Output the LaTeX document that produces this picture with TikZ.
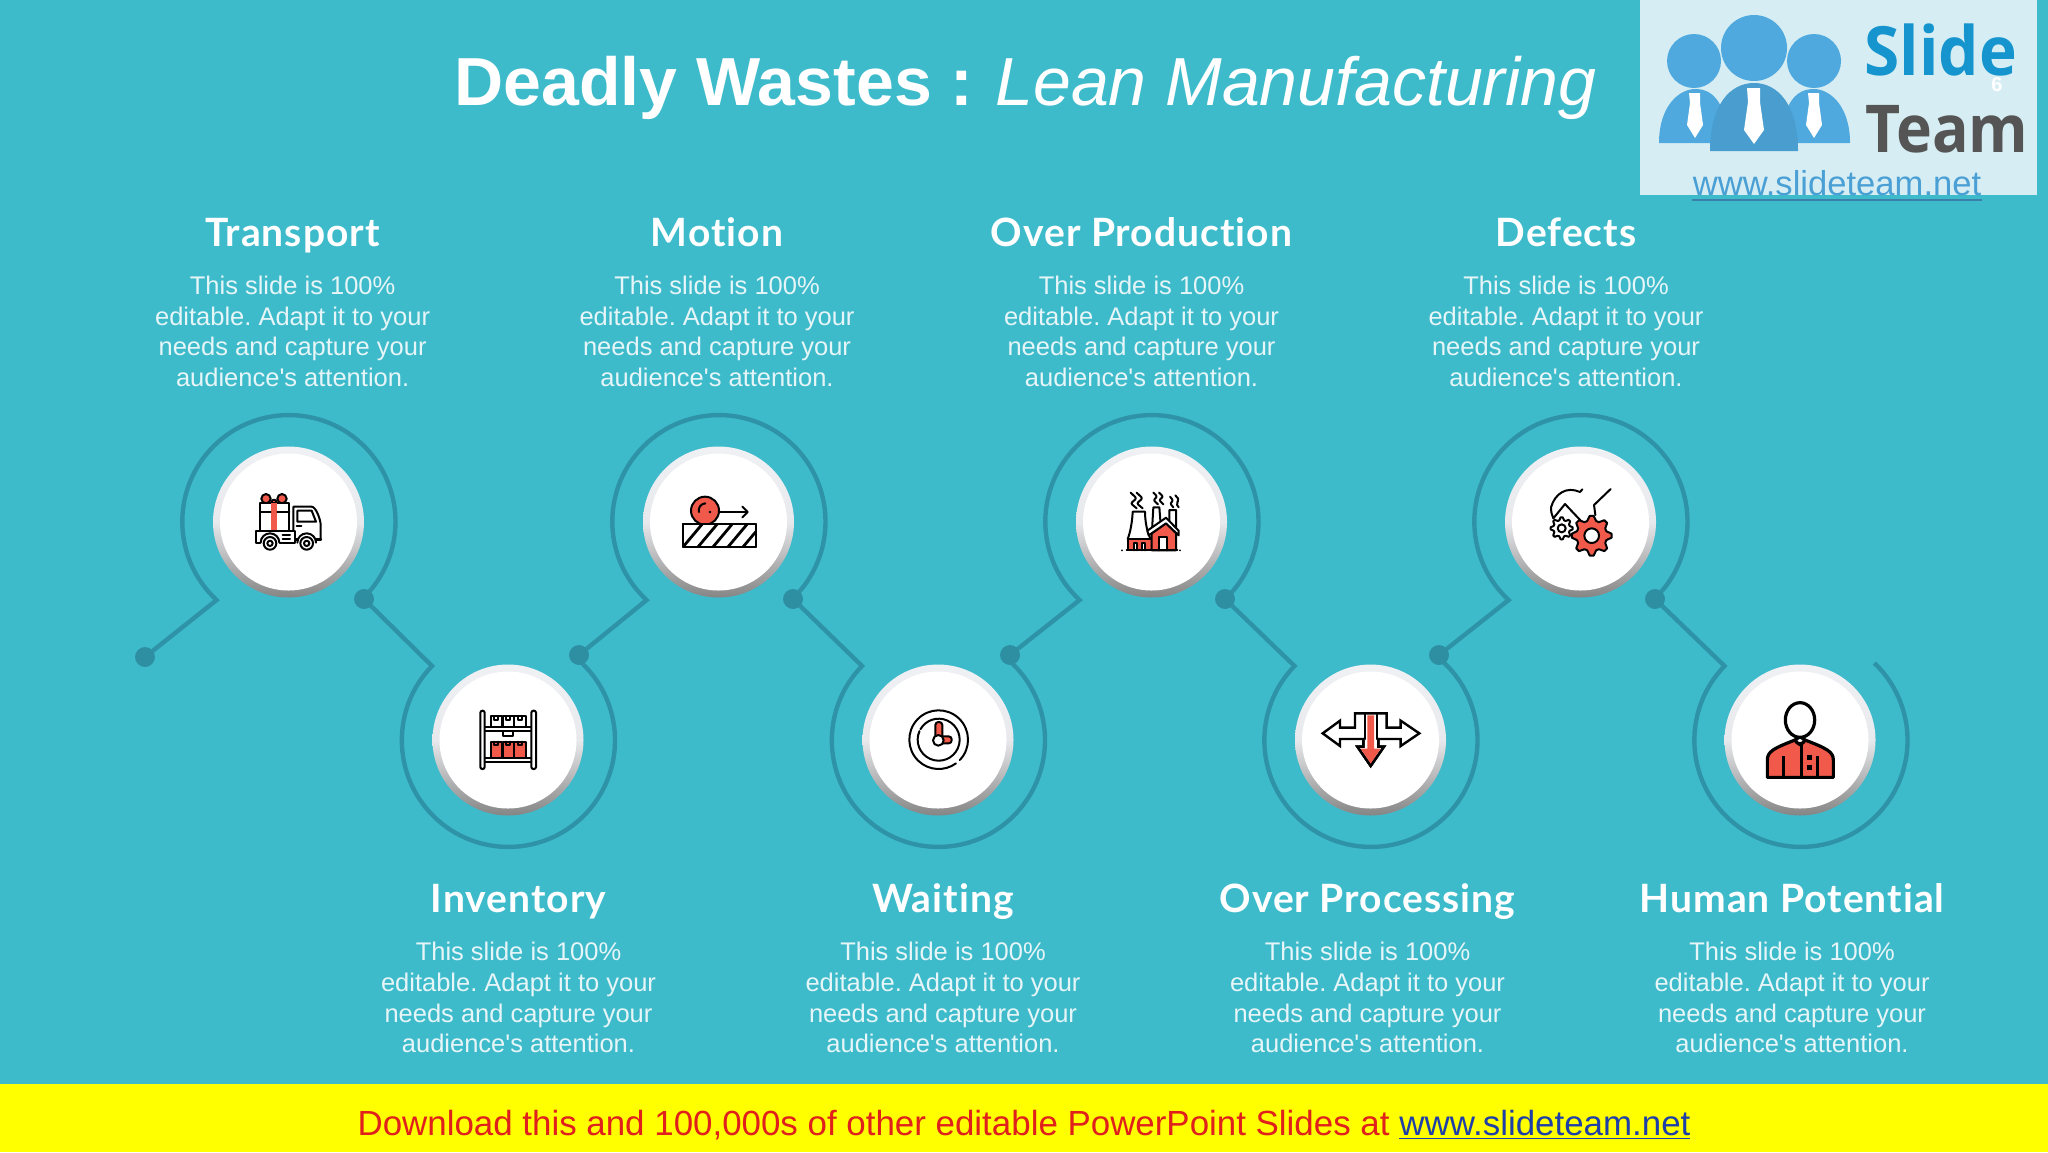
\documentclass[tikz,border=0pt]{standalone}
\usepackage{graphicx}
\usepackage{fontspec}
\setmainfont{Liberation Sans}
\newfontfamily\bodyfont{Liberation Sans}
\newfontfamily\headfont[LetterSpace=2.6,Ligatures=NoCommon]{Lato}
\newfontfamily\logofont{Open Sans}
\definecolor{bgc}{HTML}{3EBBCB}
\definecolor{ringc}{HTML}{2F93A8}
\definecolor{dotc}{HTML}{2E8FA3}
\definecolor{icored}{HTML}{F15A4A}
\definecolor{bodyc}{HTML}{E6F5F7}
\definecolor{logobg}{HTML}{D6EEF3}
\definecolor{logoblue}{HTML}{4FA9DE}
\definecolor{logotx}{HTML}{1594CE}
\definecolor{logogr}{HTML}{555555}
\definecolor{urlc}{HTML}{4A9FD4}
\definecolor{banyel}{HTML}{FFFF00}
\definecolor{banred}{HTML}{E0201C}
\definecolor{banblue}{HTML}{1F3FA8}
\definecolor{rimtop}{HTML}{F0F1F4}
\definecolor{rimmid}{HTML}{E8E9EC}
\definecolor{rimbot}{HTML}{858585}
\tikzset{
  ringline/.style={draw=ringc,line width=2.2pt,line join=miter},
  dotnode/.style={circle,fill=dotc,minimum size=9.8pt,inner sep=0pt},
  headtxt/.style={font=\headfont\bfseries\fontsize{19.5}{22}\selectfont,text=white,anchor=base,inner sep=0pt},
  bodytxt/.style={font=\bodyfont\frenchspacing\fontsize{12.75}{15.4}\selectfont,text=bodyc,align=center,anchor=north,inner sep=0pt},
  ico/.style={line width=1pt,draw=black,line join=round,line cap=round},
  icosc/.style={x=0.16667pt,y=-0.16667pt},
}
\newcommand{\mygear}[6]{%
  \pgfmathsetmacro{\gearn}{int(#5*4-1)}%
  \draw[ico,fill=#6] plot[samples at={0,...,\gearn}] ({#1+ifthenelse(mod(\x,4)<2,#3,#4)*cos((\x-0.5)*90/#5)},{#2+ifthenelse(mod(\x,4)<2,#3,#4)*sin((\x-0.5)*90/#5)}) -- cycle;}
\newcommand{\disc}[3]{%
  \shade[top color=rimtop,bottom color=rimbot,middle color=rimmid] (#2,#3) circle[radius=75.5];
  \node[circle,fill=white,minimum size=68.5pt,inner sep=0pt] (#1) at (#2,#3) {};}
\newcommand{\bodytext}{This slide is 100\%\\editable. Adapt it to your\\needs and capture your\\audience's attention.}
\newcommand{\topblock}[3]{%
  \node[headtxt] (h#3) at (#1,246) {#2};
  \node[bodytxt] (b#3) at (#1,275.5) {\bodytext};}
\newcommand{\botblock}[3]{%
  \node[headtxt] (h#3) at (#1,912) {#2};
  \node[bodytxt] (b#3) at (#1,941.5) {\bodytext};}
\begin{document}
\begin{tikzpicture}[x=0.5pt,y=-0.5pt]
\useasboundingbox (0,0) rectangle (2048,1152);
\fill[bgc] (0,0) rectangle (2048,1152);
\fill[banyel] (0,1084) rectangle (2048,1152);

% logo
\fill[logobg] (1640,0) rectangle (2037,195);
\fill[logoblue] (1659,143) .. controls (1659,105) and (1680,89) .. (1695,89) .. controls (1712,89) and (1725,100) .. (1730,143) -- cycle;
\fill[logoblue] (1850,143) .. controls (1850,105) and (1829,89) .. (1814,89) .. controls (1797,89) and (1784,100) .. (1779,143) -- cycle;
\fill[logoblue!93!black] (1710,151) .. controls (1710,105) and (1730,83) .. (1754,83) .. controls (1778,83) and (1798,105) .. (1798,151) -- cycle;
\fill[logoblue] (1694,61) circle[radius=27];
\fill[logoblue] (1814,61) circle[radius=27];
\fill[logoblue] (1754,48) circle[radius=33];
\fill[white] (1689,93) -- (1700,93) -- (1700,103) -- (1703,125) -- (1695,138) -- (1687,125) -- (1690,103) -- cycle;
\fill[white] (1808,93) -- (1819,93) -- (1819,103) -- (1822,125) -- (1814,138) -- (1806,125) -- (1809,103) -- cycle;
\fill[white] (1747,88) -- (1760,88) -- (1760,102) -- (1764,130) -- (1754,144) -- (1744,130) -- (1748,102) -- cycle;
\node[anchor=base west,inner sep=0pt,text=logotx,font=\logofont\bfseries\fontsize{34}{36}\selectfont] (slidetx) at (1864,75) {\scalebox{0.94}[1]{Slide}};
\node[anchor=base west,inner sep=0pt,text=logogr,font=\logofont\bfseries\fontsize{33}{36}\selectfont] (teamtx) at (1865,152) {\scalebox{0.92}[1]{Team}};
\node[inner sep=0pt,text=white,font=\bfseries\fontsize{10}{12}\selectfont] (pageno) at (1997,85) {6};
\node[anchor=base,inner sep=0pt,text=urlc,font=\fontsize{17.3}{19}\selectfont] (urltx) at (1837,195) {www.slideteam.net};
\draw[urlc!80!black,line width=1pt] (1692,199.5) -- (1982,199.5);

% title
\node[anchor=base west,inner sep=0pt,text=white,font=\fontsize{34}{40}\selectfont] (title) at (454,105.5) {\textbf{Deadly Wastes :}\hspace{-1.6pt} \textit{Lean Manufacturing}};

% texts
\topblock{292.6}{Transport}{a}
\botblock{518.5}{Inventory}{b}
\topblock{717}{Motion}{c}
\botblock{943}{Waiting}{d}
\topblock{1141.5}{Over Production}{e}
\botblock{1367.5}{Over Processing}{f}
\topblock{1566}{Defects}{g}
\botblock{1792}{Human Potential}{h}

% banner
\node[anchor=base,inner sep=0pt,text=banred,font=\fontsize{17.45}{20}\selectfont] (banner) at (1024,1135) {Download this and 100,000s of other editable PowerPoint Slides at \textcolor{banblue}{\underline{www.slideteam.net}}};

% rings and connectors
\coordinate (k1) at (216.6,600);
\coordinate (k2) at (432,666);
\coordinate (k3) at (646.6,600);
\coordinate (k4) at (862,666);
\coordinate (k5) at (1079.6,600);
\coordinate (k6) at (1294.5,666);
\coordinate (k7) at (1508.6,600);
\coordinate (k8) at (1724.5,666);
\node[dotnode] (d0) at (145,657) {};
\node[dotnode] (d1) at (364,599) {};
\node[dotnode] (d2) at (579,655) {};
\node[dotnode] (d3) at (793,599) {};
\node[dotnode] (d4) at (1010,655) {};
\node[dotnode] (d5) at (1225,599) {};
\node[dotnode] (d6) at (1439,655) {};
\node[dotnode] (d7) at (1655,599) {};

\draw[ringline] (d0.center) -- (k1) arc[start angle=227.3,end angle=-45,radius=53.3pt];
\draw[ringline] (d1.center) -- (k2) arc[start angle=135.8,end angle=410,radius=53.3pt];
\draw[ringline] (d2.center) -- (k3) arc[start angle=227.3,end angle=-45,radius=53.3pt];
\draw[ringline] (d3.center) -- (k4) arc[start angle=135.8,end angle=410,radius=53.3pt];
\draw[ringline] (d4.center) -- (k5) arc[start angle=227.3,end angle=-45,radius=53.3pt];
\draw[ringline] (d5.center) -- (k6) arc[start angle=135.8,end angle=410,radius=53.3pt];
\draw[ringline] (d6.center) -- (k7) arc[start angle=227.3,end angle=-45,radius=53.3pt];
\draw[ringline] (d7.center) -- (k8) arc[start angle=135.8,end angle=406.5,radius=53.3pt];
\node[dotnode] at (d0) {};
\node[dotnode] at (d1) {};
\node[dotnode] at (d2) {};
\node[dotnode] at (d3) {};
\node[dotnode] at (d4) {};
\node[dotnode] at (d5) {};
\node[dotnode] at (d6) {};
\node[dotnode] at (d7) {};

% discs
\disc{c1}{288.5}{522}
\disc{c2}{508}{740}
\disc{c3}{718.5}{522}
\disc{c4}{938}{740}
\disc{c5}{1151.5}{522}
\disc{c6}{1370.5}{740}
\disc{c7}{1580.5}{522}
\disc{c8}{1800}{740}

% truck
\begin{scope}[shift={(230,470)},icosc]
  \draw[ico,fill=icored] (108,86) circle[radius=14];
  \draw[ico,fill=icored] (156,86) circle[radius=14];
  \draw[ico,fill=icored] (132,96) circle[radius=7];
  \draw[ico,fill=white] (90,100) rectangle (178,182);
  \fill[icored] (122,100) rectangle (142,182);
  \draw[ico] (90,126) -- (122,126) (142,126) -- (178,126);
  \draw[ico,fill=white] (190,182) -- (190,110) -- (245,110) .. controls (258,110) and (272,150) .. (272,165) -- (272,208) -- (190,208) -- cycle;
  \draw[ico] (202,122) -- (245,122) -- (258,155) -- (202,155) -- cycle;
  \draw[ico] (200,168) -- (214,168);
  \draw[ico,fill=white] (78,182) -- (195,182) -- (195,208) -- (272,208) -- (272,210) -- (195,210) -- (195,220) -- (78,220) -- cycle;
  \draw[ico] (158,195) -- (180,195) (158,207) -- (180,207);
  \fill[white] (120,220) circle[radius=28];
  \fill[white] (230,220) circle[radius=28];
  \draw[ico] (92,218) arc[start angle=180,end angle=0,radius=4.67pt];
  \draw[ico] (202,218) arc[start angle=180,end angle=0,radius=4.67pt];
  \draw[ico,fill=white] (120,220) circle[radius=19];
  \draw[ico,fill=white] (120,220) circle[radius=8];
  \draw[ico,fill=white] (230,220) circle[radius=19];
  \draw[ico,fill=white] (230,220) circle[radius=8];
\end{scope}

% shelves
\begin{scope}[shift={(450,690)},icosc]
  \foreach \bx in {122,158,193}{
    \draw[ico,fill=white] (\bx,78) rectangle ++(35,32);
    \draw[ico] (\bx+11,78) -- (\bx+11,90) -- (\bx+23,90) -- (\bx+23,78);
    \draw[ico,fill=icored] (\bx,155) rectangle ++(35,48);
    \draw[ico] (\bx+11,155) -- (\bx+11,166) -- (\bx+23,166) -- (\bx+23,155);
  }
  \draw[ico,fill=white] (158,124) rectangle (190,138);
  \draw[ico,fill=white] (100,112) rectangle (248,124);
  \draw[ico,fill=white] (100,203) rectangle (248,215);
  \draw[ico,fill=white,rounded corners=1pt] (91,62) rectangle (104,237);
  \draw[ico,fill=white,rounded corners=1pt] (244,62) rectangle (258,237);
\end{scope}

% motion
\begin{scope}[shift={(660,470)},icosc]
  \draw[ico,fill=icored] (135,122) circle[radius=42];
  \draw[ico] (117,126) .. controls (114,112) and (122,102) .. (136,100);
  \fill (150,126) circle[radius=4];
  \draw[ico] (177,126) -- (262,126);
  \draw[ico] (247,110) -- (263,126) -- (247,142);
  \draw[ico,fill=white] (68,163) rectangle (288,232);
  \begin{scope}
    \clip (68,163) rectangle (288,232);
    \foreach \hx in {68,113,158,203,248,293}{
      \draw[line width=1.4pt] (\hx,232) -- (\hx+58,163);
    }
  \end{scope}
  \draw[ico] (68,163) rectangle (288,232);
\end{scope}

% clock
\begin{scope}[shift={(880,690)},icosc]
  \draw[ico] (239.3,210.1) arc[start angle=-44,end angle=306,radius=14.67pt];
  \draw[ico] (118.4,123.4) arc[start angle=156,end angle=510,radius=10.5pt];
  \draw[ico,fill=icored,rounded corners=1.5pt] (166,96) rectangle (187,150);
  \draw[ico,fill=icored,rounded corners=1.5pt] (176,139) rectangle (215,160);
  \draw[ico,fill=white] (175,151) circle[radius=16];
\end{scope}

% factory
\begin{scope}[shift={(1090,470)},icosc]
  \draw[ico,rounded corners=1pt] (122,68) -- (140,85) -- (122,100) -- (140,115);
  \draw[ico,rounded corners=1pt] (140,68) -- (158,85) -- (140,100) -- (158,115);
  \draw[ico,rounded corners=1pt] (190,68) -- (202,80) -- (190,90) -- (204,103);
  \draw[ico,rounded corners=1pt] (207,68) -- (220,80) -- (207,90) -- (220,103);
  \draw[ico,rounded corners=1pt] (240,80) -- (250,92) -- (240,100) -- (250,112);
  \draw[ico,rounded corners=1pt] (256,76) -- (268,90) -- (258,100) -- (266,112);
  \draw[ico,fill=white] (128,125) -- (165,125) .. controls (165,150) and (170,185) .. (182,207) -- (113,207) .. controls (122,185) and (127,150) .. (128,125) -- cycle;
  \draw[ico,fill=white] (190,112) -- (208,112) -- (212,165) -- (186,180) -- cycle;
  \draw[ico,fill=white] (238,120) -- (258,120) -- (258,185) -- (238,165) -- cycle;
  \draw[ico,fill=icored] (113,207) rectangle (186,241);
  \draw[ico,fill=icored] (185,241) -- (185,190) -- (228,160) -- (258,190) -- (258,241) -- cycle;
  \draw[ico,fill=white] (172,182) -- (228,143) -- (266,182) -- (266,196) -- (228,160) -- (176,196) -- cycle;
  \draw[ico,fill=white] (207,241) -- (207,202) -- (230,202) -- (230,241);
  \draw[ico,fill=white] (131,241) -- (131,220) -- (142,220) -- (142,241);
  \draw[ico,fill=white] (155,241) -- (155,220) -- (166,220) -- (166,241);
  \draw[ico] (110,241) -- (262,241);
  \fill (96,241) circle[radius=3];
  \fill (270,241) circle[radius=3];
\end{scope}

% arrows
\begin{scope}[shift={(1310,690)},icosc]
  \draw[ico,line width=1.2pt,fill=white,line join=miter] (38,130) -- (90,92) -- (90,113) -- (135,113) -- (135,70) -- (230,70) -- (230,113) -- (272,113) -- (272,92) -- (328,130) -- (272,168) -- (272,147) -- (205,147) -- (205,170) -- (222,170) -- (182,228) -- (142,170) -- (160,170) -- (160,147) -- (90,147) -- (90,168) -- cycle;
  \fill[icored] (172,76) -- (192,76) -- (192,176) -- (212,176) -- (182,222) -- (152,176) -- (172,176) -- cycle;
  \draw[ico,line join=miter] (165,74) -- (165,147);
  \draw[ico,line join=miter] (200,74) -- (200,147);
  \draw[ico,line width=1.2pt,line join=miter] (205,147) -- (205,170) -- (222,170) -- (182,228) -- (142,170) -- (160,170) -- (160,147);
\end{scope}

% gears
\begin{scope}[shift={(1520,470)},icosc]
  \draw[ico] (187,58) -- (180,66) .. controls (140,48) and (105,70) .. (93,112) .. controls (93,125) and (95,135) .. (100,145);
  \draw[ico] (100,145) -- (135,102) -- (185,155);
  \draw[ico] (272,57) -- (222,105) -- (226,135);
  \mygear{125}{175}{33}{25}{8}{white}
  \draw[ico,fill=white] (125,175) circle[radius=12];
  \mygear{215}{197}{60}{46}{8}{icored}
  \draw[ico,fill=white] (215,197) circle[radius=22];
\end{scope}

% person
\begin{scope}[shift={(1740,690)},icosc]
  \draw[ico,line width=1.6pt,fill=icored] (82,262) -- (82,210) .. controls (82,185) and (100,175) .. (165,150) -- (180,165) -- (195,150) .. controls (260,175) and (280,185) .. (280,210) -- (280,262) -- cycle;
  \draw[ico,line width=1.6pt,fill=white] (165,150) .. controls (170,165) and (190,165) .. (195,150) -- (180,140) -- cycle;
  \draw[ico,line width=1.6pt,fill=white] (180,90) ellipse[x radius=44,y radius=52];
  \fill (126,197) rectangle (136,262);
  \fill (227,197) rectangle (237,262);
  \fill (180,165) rectangle (188,262);
  \fill (201,195) rectangle (216,210);
  \fill (201,225) rectangle (216,240);
\end{scope}
\end{tikzpicture}
\end{document}
